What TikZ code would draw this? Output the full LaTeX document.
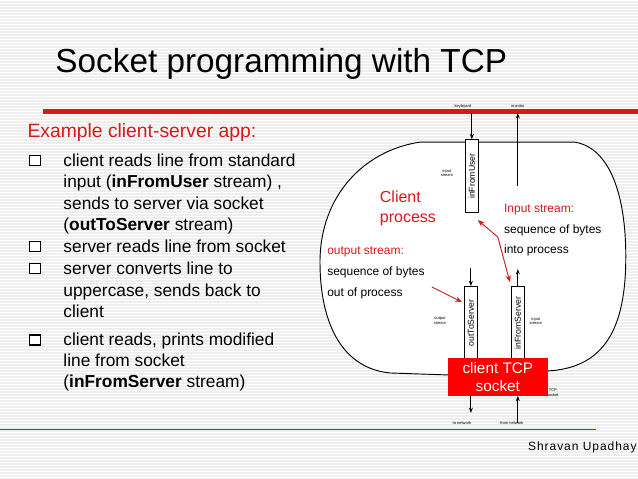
\documentclass[tikz,border=0pt]{standalone}
\usepackage{fontspec}
\setmainfont{Liberation Sans}
\usetikzlibrary{arrows.meta}
\definecolor{slred}{HTML}{D7191C}
\definecolor{bg}{HTML}{EEEEEE}
\begin{document}
\begin{tikzpicture}[x=0.75pt,y=-0.75pt,
  txt/.style={anchor=base west,inner sep=0pt,font=\fontsize{13}{14}\selectfont},
  tiny/.style={inner sep=0pt,font=\fontsize{3}{3.5}\selectfont,align=center},
  strm/.style={draw,fill=white,minimum width=9.5pt,minimum height=55pt,inner sep=0pt},
  arr/.style={-{Stealth[length=4pt,width=3pt]},line width=0.7pt},
  rarr/.style={{Stealth[length=5pt,width=4pt]}-{Stealth[length=5pt,width=4pt]},slred,line width=0.7pt}]
\fill[bg] (0,0) rectangle (638,479);
\foreach \i in {0,3,...,477} \draw[white,line width=0.4pt] (0,\i) -- (638,\i);
\useasboundingbox (0,0) rectangle (638,479);
\fill[slred] (43,109) rectangle (638,114);
\draw[slred,line width=0.8pt] (0,430) -- (596,430);
\node[anchor=base west,inner sep=0pt,font=\fontsize{25}{28}\selectfont] (title) at (55,72) {Socket programming with TCP};
\node[anchor=base west,inner sep=0pt,text=slred,font=\fontsize{14.5}{16}\selectfont] (ex) at (27,137) {Example client-server app:};
\foreach \y in {160,246,268,340} \draw[line width=0.8pt,fill=white] (29,\y-5) rectangle (40,\y+5);
\node[txt] (b1) at (63,166) {client reads line from standard};
\node[txt] at (63,187) {input (\textbf{inFromUser} stream) ,};
\node[txt] at (63,209) {sends to server via socket};
\node[txt] at (63,230) {(\textbf{outToServer} stream)};
\node[txt] (b2) at (63,252) {server reads line from socket};
\node[txt] (b3) at (63,274) {server converts line to};
\node[txt] at (63,296) {uppercase, sends back to};
\node[txt] at (63,317) {client};
\node[txt] (b4) at (63,346) {client reads, prints  modified};
\node[txt] at (63,367) {line from socket};
\node[txt] at (63,388) {(\textbf{inFromServer} stream)};
% blob
\draw[fill=white,line width=0.7pt] (420,142) -- (575,142)
  .. controls (612,148) and (627,200) .. (626,262)
  .. controls (625,335) and (600,368) .. (548,371)
  -- (448,375) -- (390,373)
  .. controls (340,368) and (320,320) .. (320,262)
  .. controls (320,195) and (365,150) .. (420,142);
% keyboard / monitor
\node[tiny] (kb) at (463,106) {keyboard};
\node[tiny] (mon) at (518,106) {monitor};
\node[strm] (ifu) at (472,176) {\rotatebox{90}{\fontsize{6.5}{7}\selectfont inFromUser}};
\draw[arr] (472,113) -- (ifu.north);
\coordinate (mtop) at (518,113);
\coordinate (mbot) at (518,186);
\draw[arr] (mbot) -- (mtop);
\node[tiny] (is1) at (447,173) {input\\stream};
\node[draw=white,fill=white,text=slred,align=left,inner sep=2pt,font=\fontsize{12}{15}\selectfont] (cp) at (408,208) {Client\\process};
\node[anchor=base west,inner sep=0pt,text=slred,font=\fontsize{9}{11}\selectfont] (isl) at (504,212) {Input stream:};
\node[anchor=base west,inner sep=0pt,font=\fontsize{9}{11}\selectfont] at (504,233) {sequence of bytes};
\node[anchor=base west,inner sep=0pt,font=\fontsize{9}{11}\selectfont] at (504,253) {into process};
\node[anchor=base west,inner sep=0pt,text=slred,font=\fontsize{9}{11}\selectfont] (osl) at (327,254) {output stream:};
\node[anchor=base west,inner sep=0pt,font=\fontsize{9}{11}\selectfont] at (327,275) {sequence of bytes};
\node[anchor=base west,inner sep=0pt,font=\fontsize{9}{11}\selectfont] at (327,296) {out of process};
\node[strm] (ots) at (471,323) {\rotatebox{90}{\fontsize{6.5}{7}\selectfont outToServer}};
\node[strm] (ifs) at (518,323) {\rotatebox{90}{\fontsize{6.5}{7}\selectfont inFromServer}};
\coordinate (o1) at (471,268);
\coordinate (i1) at (518,269);
\draw[arr] (o1) -- (ots.north);
\draw[arr] (ifs.north) -- (i1);
\node[tiny] (os2) at (440,321) {output\\stream};
\node[tiny] (is2) at (536,321) {input\\stream};
% red arrows
\coordinate (ra) at (478,220);
\coordinate (rb) at (498,237);
\coordinate (rc) at (510,282);
\draw[rarr] (ra) -- (rb) -- (rc);
\coordinate (oa) at (432,287);
\coordinate (ob) at (462,302);
\draw[-{Stealth[length=5pt,width=4pt]},slred,line width=0.7pt] (oa) -- (ob);
% socket
\node[fill=red,text=white,minimum width=75pt,minimum height=28pt,align=center,inner sep=0pt,font=\fontsize{11.5}{14}\selectfont] (sock) at (498,377) {client TCP\\socket};
\node[tiny] (ts) at (553,393) {TCP\\socket};
\node[tiny] (tn) at (462,423) {to network};
\node[tiny] (fn) at (512,423) {from network};
\coordinate (n1) at (471,413);
\coordinate (n2) at (518,423);
\draw[arr] (sock.south -| n1) -- (n1);
\draw[arr] (n2) -- (sock.south -| n2);
\node[anchor=base west,inner sep=0pt,font=\fontsize{9}{11}\selectfont] (auth) at (528,451) {\addfontfeatures{LetterSpace=8}Shravan Upadhay};
\end{tikzpicture}
\end{document}
